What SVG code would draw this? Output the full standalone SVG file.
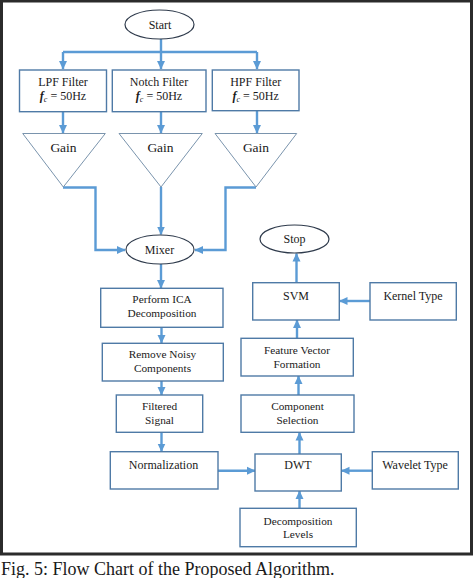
<svg xmlns="http://www.w3.org/2000/svg" width="474" height="578" viewBox="0 0 474 578">
<style>
.box{fill:#fff;stroke:#4f7aa6;stroke-width:1.4}
.tri{fill:#fff;stroke:#7a94ad;stroke-width:1}
.ell{fill:#fff;stroke:#2f3b4c;stroke-width:1.2}
.t{font-size:12px;fill:#1a1a1a;text-anchor:middle}
.s{font-size:11.3px}
.g{font-size:13.5px}
.con{fill:none;stroke:#5b9bd5;stroke-width:2.4}
</style>
<defs>
<marker id="ah" markerUnits="userSpaceOnUse" markerWidth="9" markerHeight="9" refX="8" refY="4.5" orient="auto">
<path d="M0,0.5 L8.5,4.5 L0,8.5 z" fill="#5b9bd5"/>
</marker>
</defs>
<rect x="0" y="0" width="474" height="578" fill="#fff"/>
<rect x="1.5" y="1" width="470" height="553" fill="#fff" stroke="#2b2b2b" stroke-width="3"/>

<g id="connectors">
<path class="con" d="M161,39 V52 M63,52 H257"/>
<path class="con" d="M63,52 V69" marker-end="url(#ah)"/>
<path class="con" d="M161,52 V69" marker-end="url(#ah)"/>
<path class="con" d="M257,52 V69" marker-end="url(#ah)"/>
<path class="con" d="M63,112 V133" marker-end="url(#ah)"/>
<path class="con" d="M161,112 V133" marker-end="url(#ah)"/>
<path class="con" d="M257,111 V133" marker-end="url(#ah)"/>
<path class="con" d="M63,187.5 H95.5 V250 H125" marker-end="url(#ah)"/>
<path class="con" d="M161,187 V234.5" marker-end="url(#ah)"/>
<path class="con" d="M256,187.5 H225.5 V250 H195" marker-end="url(#ah)"/>
<path class="con" d="M161,264 V288" marker-end="url(#ah)"/>
<path class="con" d="M161.5,327 V343" marker-end="url(#ah)"/>
<path class="con" d="M161.5,381 V395" marker-end="url(#ah)"/>
<path class="con" d="M161.5,432 V451.5" marker-end="url(#ah)"/>
<path class="con" d="M218,470.7 H255" marker-end="url(#ah)"/>
<path class="con" d="M372,470.7 H341.5" marker-end="url(#ah)"/>
<path class="con" d="M299.5,508 V491" marker-end="url(#ah)"/>
<path class="con" d="M299.5,454 V432.5" marker-end="url(#ah)"/>
<path class="con" d="M298.5,395 V376" marker-end="url(#ah)"/>
<path class="con" d="M297,338 V320" marker-end="url(#ah)"/>
<path class="con" d="M370,301 H339.5" marker-end="url(#ah)"/>
<path class="con" d="M296.5,282.5 V253.5" marker-end="url(#ah)"/>
</g>

<g font-family="Liberation Serif, Times New Roman, serif">
<g id="start">
<ellipse class="ell" cx="159.5" cy="24.5" rx="34.5" ry="14.5"/>
<text class="t" x="160" y="29">Start</text>
</g>
<g id="lpf">
<rect class="box" x="19.5" y="70" width="87" height="41.7"/>
<text class="t" x="63" y="86">LPF Filter</text>
<text class="t" x="63" y="99.5"><tspan font-style="italic" font-weight="bold">f</tspan><tspan font-style="italic" font-size="8" dy="2">c</tspan><tspan dy="-2"> = 50Hz</tspan></text>
</g>
<g id="notch">
<rect class="box" x="112.3" y="70" width="93.7" height="41.7"/>
<text class="t" x="159" y="86">Notch Filter</text>
<text class="t" x="159" y="99.5"><tspan font-style="italic" font-weight="bold">f</tspan><tspan font-style="italic" font-size="8" dy="2">c</tspan><tspan dy="-2"> = 50Hz</tspan></text>
</g>
<g id="hpf">
<rect class="box" x="212.3" y="70" width="86.7" height="40.7"/>
<text class="t" x="255.7" y="86">HPF Filter</text>
<text class="t" x="255.7" y="99.5"><tspan font-style="italic" font-weight="bold">f</tspan><tspan font-style="italic" font-size="8" dy="2">c</tspan><tspan dy="-2"> = 50Hz</tspan></text>
</g>
<g id="gain1">
<polygon class="tri" points="22.7,133.5 105.3,133.5 63.3,187"/>
<text class="t g" x="63.5" y="151.5">Gain</text>
</g>
<g id="gain2">
<polygon class="tri" points="119,133.5 202.3,133.5 161,187"/>
<text class="t g" x="160.5" y="151.5">Gain</text>
</g>
<g id="gain3">
<polygon class="tri" points="215,133.5 296.7,133.5 256,187"/>
<text class="t g" x="256" y="151.5">Gain</text>
</g>
<g id="mixer">
<ellipse class="ell" cx="160" cy="249.5" rx="34" ry="14.5"/>
<text class="t" x="159.5" y="253.5">Mixer</text>
</g>
<g id="ica">
<rect class="box" x="100.7" y="288.3" width="122.3" height="39"/>
<text class="t s" x="162" y="303">Perform ICA</text>
<text class="t s" x="162" y="316.5">Decomposition</text>
</g>
<g id="remove">
<rect class="box" x="102.3" y="343.3" width="121" height="37.7"/>
<text class="t s" x="162.5" y="358">Remove Noisy</text>
<text class="t s" x="162.5" y="371.5">Components</text>
</g>
<g id="filtered">
<rect class="box" x="116.3" y="395" width="86.4" height="37.3"/>
<text class="t s" x="159.5" y="410">Filtered</text>
<text class="t s" x="159.5" y="423.5">Signal</text>
</g>
<g id="normalization">
<rect class="box" x="110.3" y="451.7" width="107.7" height="37.3"/>
<text class="t" x="163.5" y="469">Normalization</text>
</g>
<g id="dwt">
<rect class="box" x="255" y="454" width="86.3" height="37"/>
<text class="t" x="298" y="469">DWT</text>
</g>
<g id="wavelet">
<rect class="box" x="372.3" y="451.7" width="86" height="37.3"/>
<text class="t" x="415" y="469">Wavelet Type</text>
</g>
<g id="decomp">
<rect class="box" x="240" y="508.3" width="116.3" height="38.4"/>
<text class="t s" x="298" y="524.5">Decomposition</text>
<text class="t s" x="298" y="538">Levels</text>
</g>
<g id="component">
<rect class="box" x="241" y="395" width="113" height="37.3"/>
<text class="t s" x="297.5" y="410">Component</text>
<text class="t s" x="297.5" y="423.5">Selection</text>
</g>
<g id="feature">
<rect class="box" x="241" y="338.3" width="112.3" height="37.7"/>
<text class="t s" x="297" y="354">Feature Vector</text>
<text class="t s" x="297" y="367.5">Formation</text>
</g>
<g id="svm">
<rect class="box" x="252.7" y="282.7" width="86.6" height="37.3"/>
<text class="t" x="296" y="300">SVM</text>
</g>
<g id="kernel">
<rect class="box" x="370" y="282.7" width="86.3" height="37.3"/>
<text class="t" x="413" y="300">Kernel Type</text>
</g>
<g id="stop">
<ellipse class="ell" cx="294.5" cy="239" rx="34.5" ry="14"/>
<text class="t" x="294.5" y="243">Stop</text>
</g>
<text x="1" y="575" font-size="18" fill="#1a1a1a">Fig. 5: Flow Chart of the Proposed Algorithm.</text>
</g>
</svg>
